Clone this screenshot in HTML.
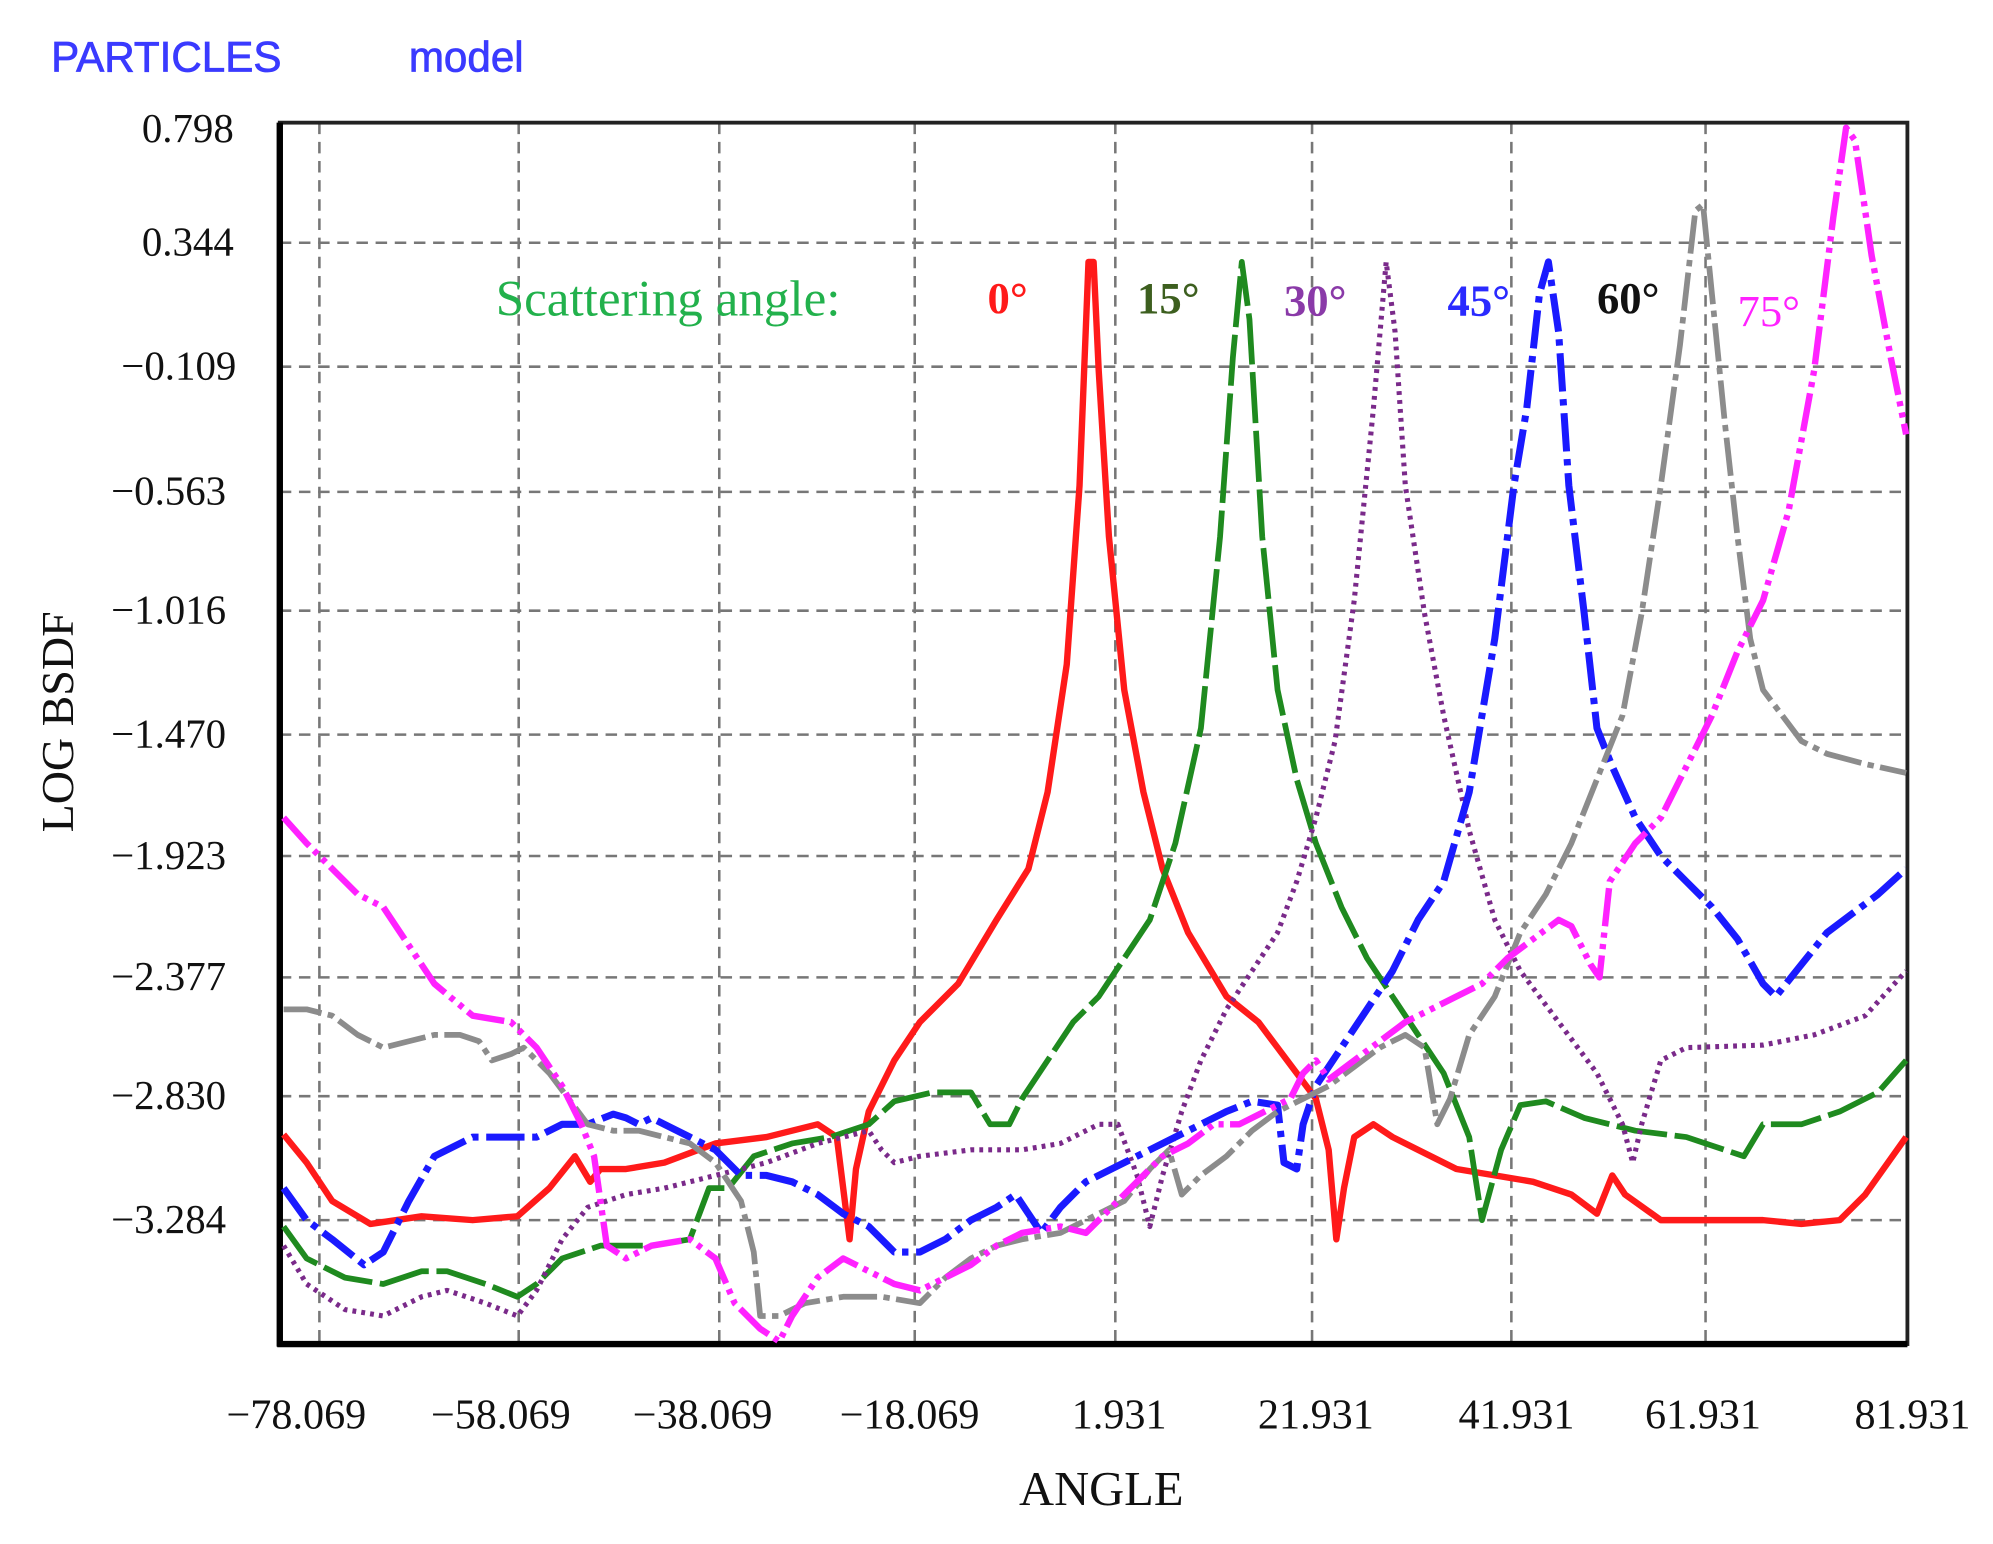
<!DOCTYPE html>
<html><head><style>html,body{margin:0;padding:0;background:#fff}svg{display:block}</style></head><body>
<svg width="1993" height="1544" viewBox="0 0 1560 1208.5" preserveAspectRatio="none" xmlns="http://www.w3.org/2000/svg">
<rect width="1560" height="1209" fill="#fff"/>
<text x="40" y="56" font-family="Liberation Sans, sans-serif" font-size="33" fill="#3a3aff" stroke="#3a3aff" stroke-width="0.6">PARTICLES</text>
<text x="320" y="56" font-family="Liberation Sans, sans-serif" font-size="33" fill="#3a3aff" stroke="#3a3aff" stroke-width="0.6">model</text>
<g stroke="#777" stroke-width="2" stroke-dasharray="9,6" fill="none">
<line x1="219" y1="190" x2="1493" y2="190"/><line x1="219" y1="287" x2="1493" y2="287"/><line x1="219" y1="385" x2="1493" y2="385"/><line x1="219" y1="478" x2="1493" y2="478"/><line x1="219" y1="575" x2="1493" y2="575"/><line x1="219" y1="670" x2="1493" y2="670"/><line x1="219" y1="765" x2="1493" y2="765"/><line x1="219" y1="858" x2="1493" y2="858"/><line x1="219" y1="955" x2="1493" y2="955"/>
<line x1="250" y1="96" x2="250" y2="1052"/><line x1="406" y1="96" x2="406" y2="1052"/><line x1="563" y1="96" x2="563" y2="1052"/><line x1="716" y1="96" x2="716" y2="1052"/><line x1="873" y1="96" x2="873" y2="1052"/><line x1="1027" y1="96" x2="1027" y2="1052"/><line x1="1183" y1="96" x2="1183" y2="1052"/><line x1="1335" y1="96" x2="1335" y2="1052"/>
</g>
<rect x="219" y="96" width="1274" height="956" fill="none" stroke="#222" stroke-width="3"/>
<line x1="219" y1="96" x2="219" y2="1054" stroke="#000" stroke-width="5"/>
<line x1="217" y1="1052" x2="1493" y2="1052" stroke="#000" stroke-width="5"/>
<g font-family="Liberation Serif, serif" font-size="32" fill="#111" text-anchor="end">
<text x="183" y="111">0.798</text><text x="183" y="200">0.344</text><text x="185" y="297">−0.109</text><text x="177" y="395">−0.563</text><text x="177" y="488">−1.016</text><text x="177" y="585">−1.470</text><text x="177" y="680">−1.923</text><text x="177" y="775">−2.377</text><text x="177" y="868">−2.830</text><text x="177" y="965">−3.284</text>
</g>
<g font-family="Liberation Serif, serif" font-size="33" fill="#111" text-anchor="middle">
<text x="232" y="1118">−78.069</text><text x="392" y="1118">−58.069</text><text x="550" y="1118">−38.069</text><text x="712" y="1118">−18.069</text><text x="876" y="1118">1.931</text><text x="1030" y="1118">21.931</text><text x="1187" y="1118">41.931</text><text x="1333" y="1118">61.931</text><text x="1497" y="1118">81.931</text>
</g>
<text x="862" y="1178" font-family="Liberation Serif, serif" font-size="38" fill="#111" text-anchor="middle">ANGLE</text>
<text transform="translate(57,565) rotate(-90)" font-family="Liberation Serif, serif" font-size="36" fill="#111" text-anchor="middle">LOG BSDF</text>
<g fill="none" stroke-linejoin="round">
<polyline stroke="#ff1a1a" stroke-width="5" points="222,888 240,910 260,940 290,958 330,952 370,955 405,952 430,930 450,905 462,925 470,915 490,915 520,910 560,895 600,890 640,880 655,890 665,970 670,915 680,870 700,830 720,800 750,770 780,720 805,680 820,620 835,520 845,380 852,205 856,205 860,290 868,420 880,540 895,620 910,680 930,730 960,780 985,800 1000,820 1015,840 1030,860 1040,900 1046,970 1052,930 1060,890 1075,880 1090,890 1110,900 1140,915 1170,920 1200,925 1230,935 1250,950 1262,920 1272,935 1300,955 1340,955 1380,955 1410,958 1440,955 1460,935 1492,890"/>
<polyline stroke="#1f8a1f" stroke-width="4.5" stroke-dasharray="40,6" points="222,960 240,985 270,1000 300,1005 330,995 350,995 380,1005 405,1015 420,1005 440,985 470,975 510,975 540,970 555,930 570,930 590,905 620,895 650,890 680,880 700,862 730,855 760,855 775,880 790,880 800,860 820,830 840,800 860,780 880,750 900,720 920,660 940,570 955,420 965,280 972,205 978,250 988,420 1000,540 1015,610 1030,660 1050,710 1070,750 1090,780 1110,810 1130,840 1150,890 1160,955 1175,900 1190,865 1210,862 1240,875 1280,885 1320,890 1350,900 1365,905 1380,880 1410,880 1440,870 1470,855 1492,830"/>
<polyline stroke="#7a2a8a" stroke-width="4" stroke-dasharray="3,4" points="222,975 240,1005 270,1025 300,1030 330,1015 350,1010 380,1020 405,1030 420,1010 440,970 460,945 490,935 520,930 560,920 600,910 640,895 680,885 690,900 700,910 720,905 760,900 800,900 830,895 860,880 875,880 890,920 900,960 910,920 925,870 940,830 960,790 980,760 1000,730 1015,690 1030,640 1045,580 1060,470 1075,320 1085,205 1092,260 1100,380 1115,480 1130,560 1150,650 1170,720 1190,760 1220,800 1250,840 1270,880 1278,910 1285,880 1300,830 1320,820 1380,818 1420,810 1460,795 1492,760"/>
<polyline stroke="#1a1aff" stroke-width="5.5" stroke-dasharray="30,6,5,6" points="222,930 240,955 260,970 285,990 300,980 320,940 340,905 370,890 400,890 420,890 440,880 460,880 480,872 490,875 500,880 510,875 520,880 540,890 560,900 580,920 600,920 620,925 640,935 660,950 680,960 700,980 720,980 740,970 760,955 780,945 795,935 805,950 815,965 830,945 850,925 870,915 900,900 920,890 940,880 960,870 980,862 1000,865 1005,910 1015,915 1020,880 1030,850 1050,820 1070,790 1090,760 1110,720 1130,690 1150,620 1170,500 1185,380 1195,320 1205,230 1212,205 1220,260 1228,380 1240,480 1250,570 1262,600 1280,640 1300,670 1320,690 1340,710 1360,735 1380,770 1390,780 1410,755 1430,730 1450,715 1470,700 1492,680"/>
<polyline stroke="#8c8c8c" stroke-width="4.5" stroke-dasharray="30,5,5,5" points="222,790 240,790 260,795 280,810 300,820 320,815 340,810 360,810 375,815 385,830 400,825 410,820 430,840 445,860 460,880 480,885 500,885 520,890 540,895 560,910 580,940 590,980 595,1030 610,1030 630,1020 660,1015 690,1015 720,1020 740,1000 760,985 780,975 800,970 830,965 860,950 880,940 900,915 915,900 925,935 940,920 960,905 980,885 1000,870 1020,860 1040,850 1060,835 1080,820 1100,810 1115,820 1125,880 1135,860 1150,810 1170,780 1190,730 1210,700 1230,660 1250,610 1270,560 1285,480 1300,380 1315,270 1327,165 1333,160 1340,230 1350,330 1360,420 1370,500 1380,540 1395,560 1410,580 1430,590 1460,598 1492,605"/>
<polyline stroke="#ff22ff" stroke-width="5" stroke-dasharray="30,5,4,5,4,5" points="222,640 240,660 260,680 280,700 300,710 320,740 340,770 370,795 400,800 420,820 440,850 455,880 465,905 475,975 490,985 510,975 540,970 560,985 575,1020 595,1040 610,1050 620,1030 640,1000 660,985 680,995 700,1005 720,1010 740,1000 760,990 780,975 800,965 830,960 850,965 870,945 890,925 910,905 930,895 950,880 970,880 990,870 1010,860 1020,840 1030,830 1040,845 1060,830 1080,815 1100,800 1120,790 1140,780 1160,770 1180,750 1200,735 1220,720 1230,725 1245,755 1252,765 1260,690 1280,660 1300,640 1320,600 1340,560 1360,510 1380,470 1400,400 1420,290 1435,170 1445,100 1452,110 1465,200 1480,280 1492,340"/>
</g>
<g font-family="Liberation Serif, serif" font-size="40">
<text x="388" y="247" fill="#22b14c">Scattering angle:</text>
<text x="773" y="245" fill="#ff1a1a" font-weight="bold" font-size="35">0°</text>
<text x="890" y="245" fill="#3d5f1f" font-weight="bold" font-size="35">15°</text>
<text x="1005" y="247" fill="#8a3aa8" font-weight="bold" font-size="35">30°</text>
<text x="1133" y="247" fill="#2a2aff" font-weight="bold" font-size="35">45°</text>
<text x="1250" y="245" fill="#111" font-weight="bold" font-size="35">60°</text>
<text x="1360" y="255" fill="#ff22ff" font-size="35">75°</text>
</g>
</svg>
</body></html>
